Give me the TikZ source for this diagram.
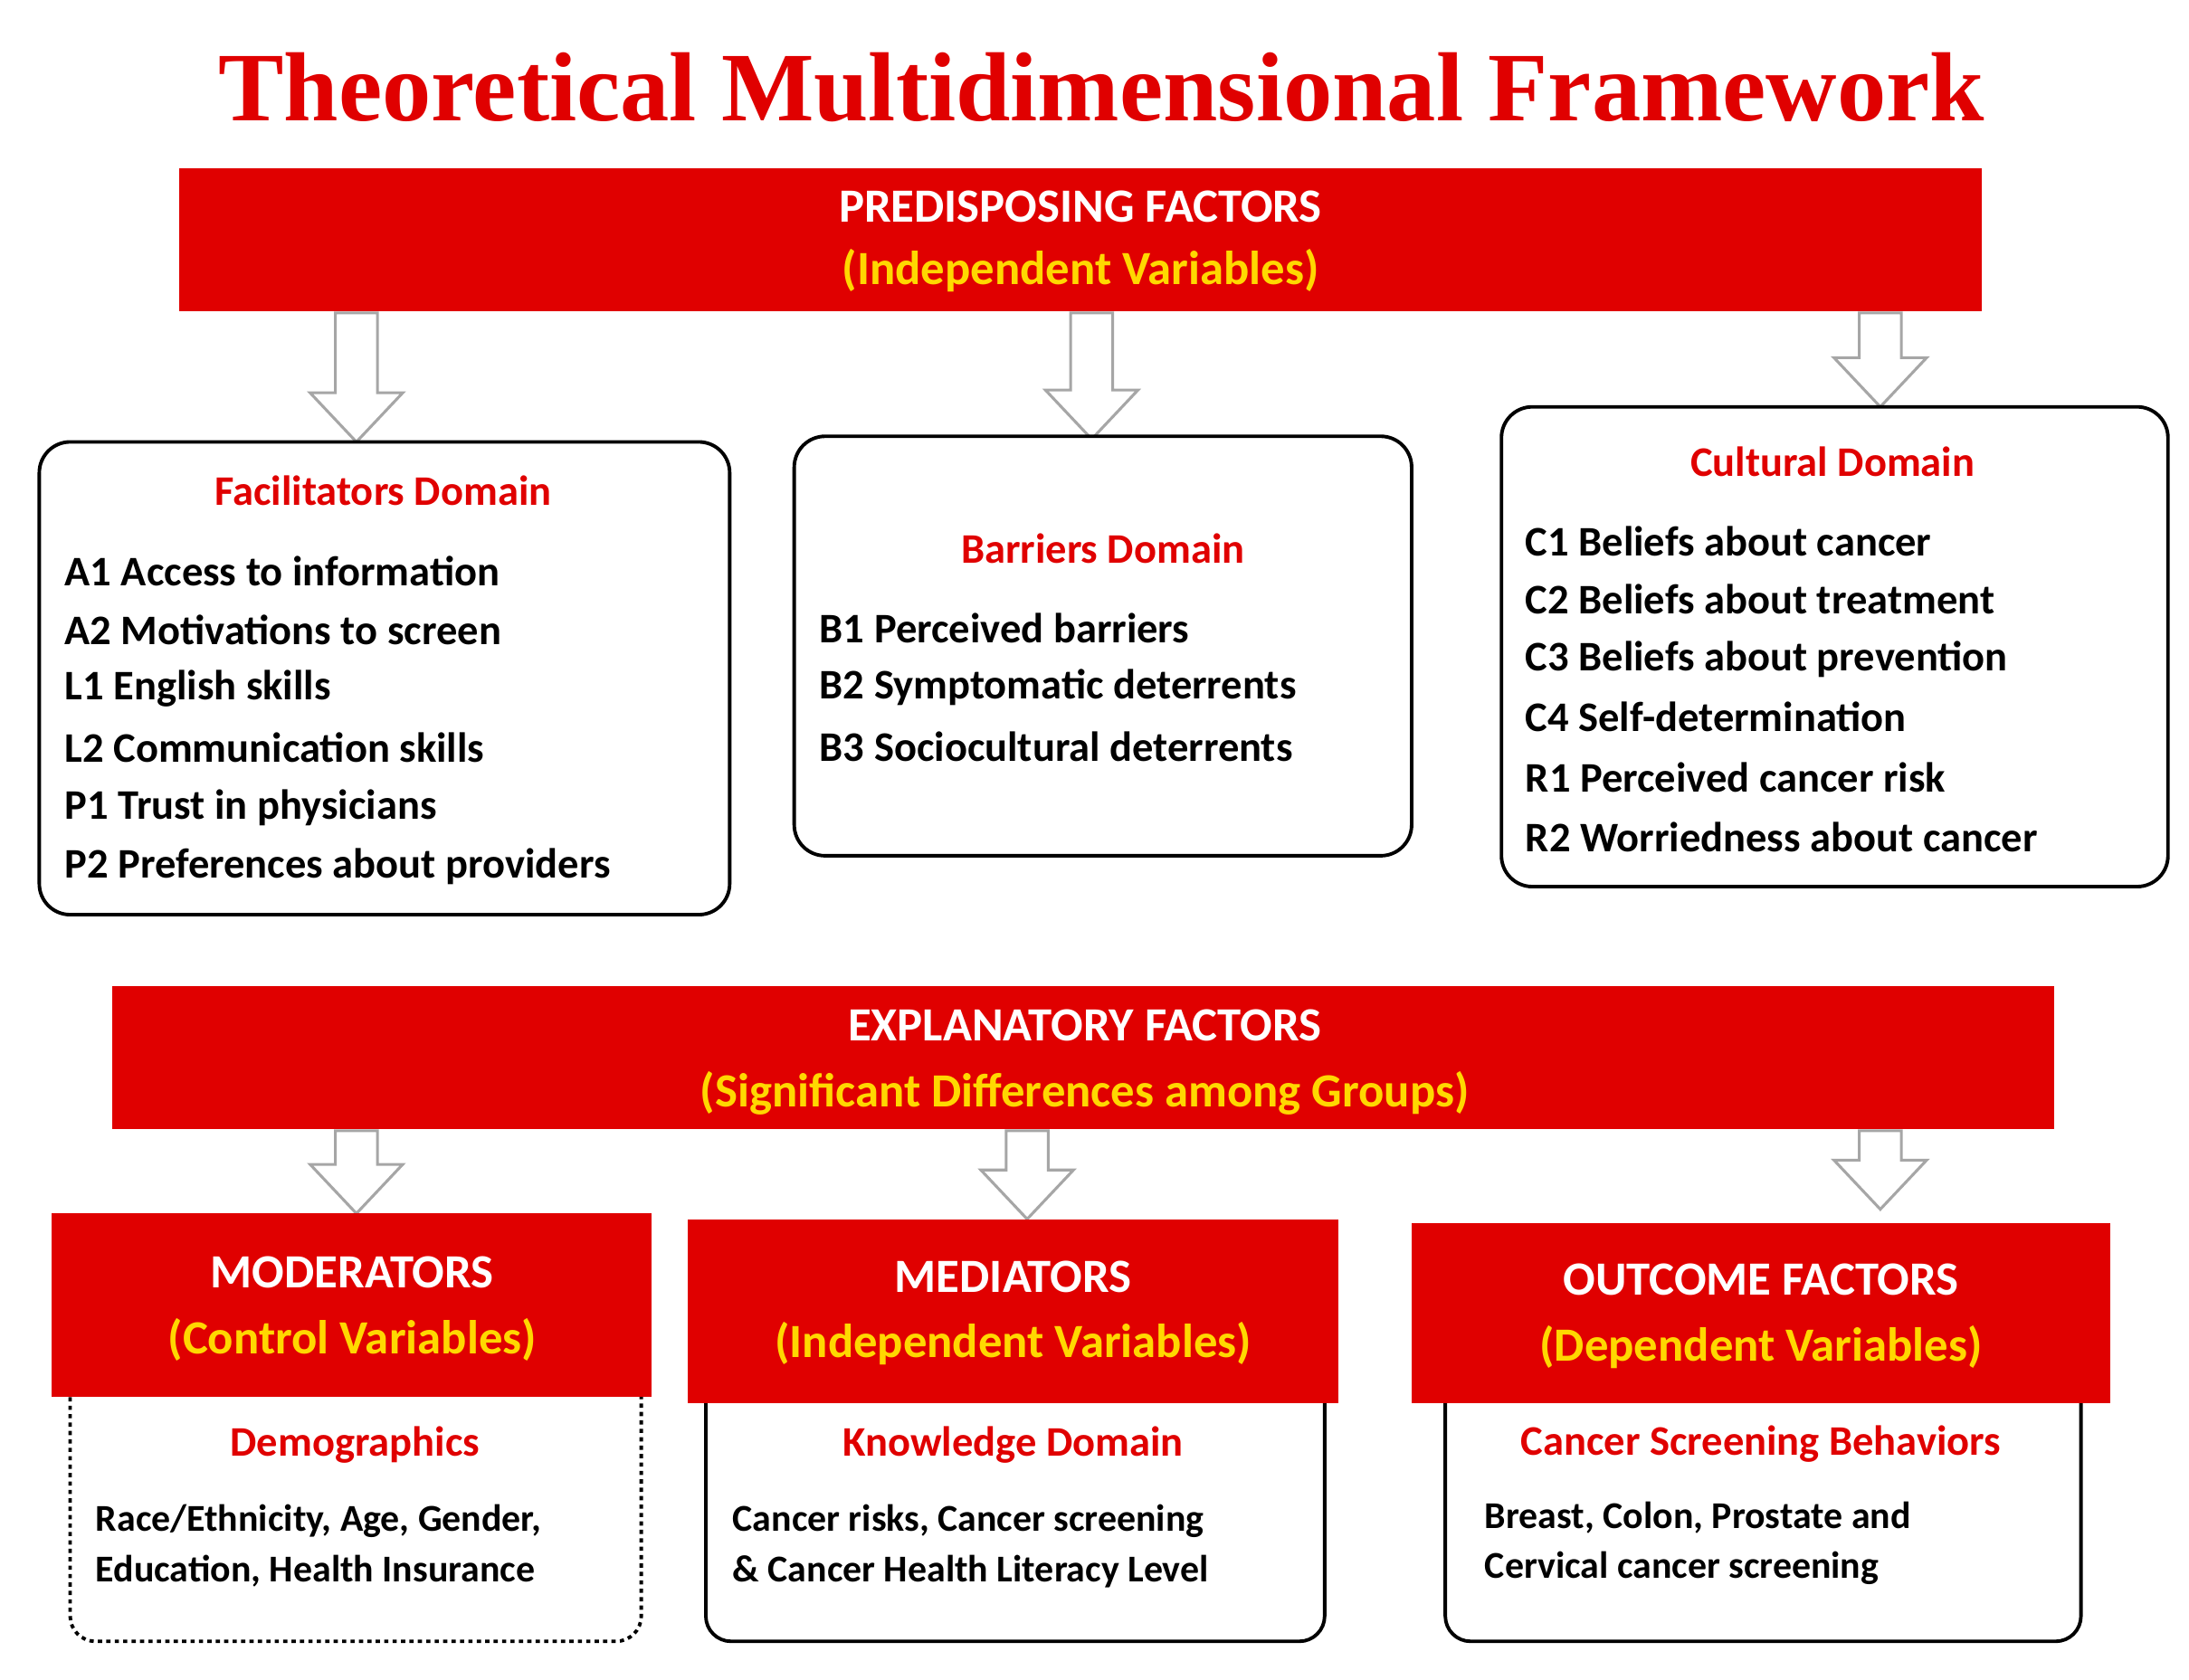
\documentclass[tikz,border=0pt]{standalone}
\usepackage{fontspec}
\setmainfont{Carlito}
\newfontfamily\titlefont{Liberation Serif}
\usetikzlibrary{shadows}
\definecolor{myred}{HTML}{E00000}
\definecolor{myyel}{HTML}{FFD800}
\newcommand\hollowarrow[4]{% name, x, ytop, ybot
  \draw[gray!70,line width=2pt,fill=white] (#2-15,#3) -- (#2+15,#3) -- (#2+15,#4-35) -- (#2+33,#4-35) -- (#2,#4) -- (#2-33,#4-35) -- (#2-15,#4-35) -- cycle;
  \coordinate (#1) at (#2,#4);}
\begin{document}
\begin{tikzpicture}[x=1pt,y=-1pt,
  hdr/.style={fill=myred,draw=none,inner sep=0pt},
  wt/.style={text=white,font=\bfseries\fontsize{34}{40}\selectfont},
  yt/.style={text=myyel,font=\bfseries\fontsize{34}{40}\selectfont},
  dom/.style={draw=black,line width=2.5pt,rounded corners=22pt,fill=white},
  dtitle/.style={text=myred,font=\bfseries\fontsize{30}{36}\selectfont,drop shadow={shadow xshift=1pt,shadow yshift=-1pt,opacity=.3}},
  item/.style={anchor=west,inner sep=0pt,font=\bfseries\fontsize{30}{36}\selectfont},
  sitem/.style={anchor=west,inner sep=0pt,font=\bfseries\fontsize{27}{32}\selectfont}]
\useasboundingbox (0,0) rectangle (1560,1197);
\fill[white] (0,0) rectangle (1560,1197);
\node (title) at (785,62) {\titlefont\bfseries\fontsize{70}{80}\selectfont\color{myred}Theoretical Multidimensional Framework};
% predisposing
\fill[myred] (128,120) rectangle (1412,222);
\node[wt] (p1) at (770,147) {PREDISPOSING FACTORS};
\node[yt] (p2) at (770,193) {(Independent Variables)};
\hollowarrow{a1}{254}{223}{315}
\hollowarrow{a2}{778}{223}{313}
\hollowarrow{a3}{1340}{223}{290}
% facilitators
\draw[dom] (28,315) rectangle (520,652);
\node[text=myred,font=\bfseries\fontsize{30}{36}\selectfont] (ft) at (273,350) {Facilitators Domain};
\foreach \t/\y in {A1 Access to information/407,A2 Motivations to screen/449,L1 English skills/491,L2 Communication skills/533,P1 Trust in physicians/576,P2 Preferences about providers/618}
  \node[item] at (46,\y) {\t};
\draw[dom] (566,311) rectangle (1006,610);
\node[text=myred,font=\bfseries\fontsize{30}{36}\selectfont] (bt) at (786,391) {Barriers Domain};
\foreach \t/\y in {B1 Perceived barriers/448,B2 Symptomatic deterrents/490,B3 Sociocultural deterrents/532}
  \node[item] at (584,\y) {\t};
\draw[dom] (1070,290) rectangle (1545,632);
\node[text=myred,font=\bfseries\fontsize{30}{36}\selectfont] (ct) at (1306,329) {Cultural Domain};
\foreach \t/\y in {C1 Beliefs about cancer/386,C2 Beliefs about treatment/427,C3 Beliefs about prevention/470,C4 Self-determination/511,R1 Perceived cancer risk/554,R2 Worriedness about cancer/597}
  \node[item] at (1087,\y) {\t};
% explanatory
\fill[myred] (80,703) rectangle (1464,805);
\node[wt] (e1) at (773,731) {EXPLANATORY FACTORS};
\node[yt] (e2) at (773,779) {(Significant Differences among Groups)};
\hollowarrow{b1}{254}{806}{865}
\hollowarrow{b2}{732}{806}{869}
\hollowarrow{b3}{1340}{806}{862}
% moderators
\draw[black,line width=2.5pt,dashed,rounded corners=18pt] (50,960) -- (50,1170) -- (457,1170) -- (457,960);
\fill[myred] (37,865) rectangle (464,996);
\node[wt] at (251,907) {MODERATORS};
\node[yt] at (251,955) {(Control Variables)};
\node[text=myred,font=\bfseries\fontsize{30}{36}\selectfont] (dm) at (253,1030) {Demographics};
\node[sitem] at (68,1084) {Race/Ethnicity, Age, Gender,};
\node[sitem] at (68,1120) {Education, Health Insurance};
% mediators
\draw[black,line width=2.5pt,rounded corners=18pt] (503,960) -- (503,1170) -- (944,1170) -- (944,960);
\fill[myred] (490,869) rectangle (954,1000);
\node[wt] at (722,910) {MEDIATORS};
\node[yt] at (722,958) {(Independent Variables)};
\node[text=myred,font=\bfseries\fontsize{30}{36}\selectfont] (kd) at (722,1030) {Knowledge Domain};
\node[sitem] at (522,1084) {Cancer risks, Cancer screening};
\node[sitem] at (522,1120) {\& Cancer Health Literacy Level};
% outcome
\draw[black,line width=2.5pt,rounded corners=18pt] (1030,960) -- (1030,1170) -- (1483,1170) -- (1483,960);
\fill[myred] (1006,872) rectangle (1504,1000);
\node[wt] at (1255,912) {OUTCOME FACTORS};
\node[yt] at (1255,960) {(Dependent Variables)};
\node[text=myred,font=\bfseries\fontsize{30}{36}\selectfont] (cs) at (1255,1029) {Cancer Screening Behaviors};
\node[sitem] at (1058,1082) {Breast, Colon, Prostate and};
\node[sitem] at (1058,1118) {Cervical cancer screening};
\end{tikzpicture}
\end{document}
